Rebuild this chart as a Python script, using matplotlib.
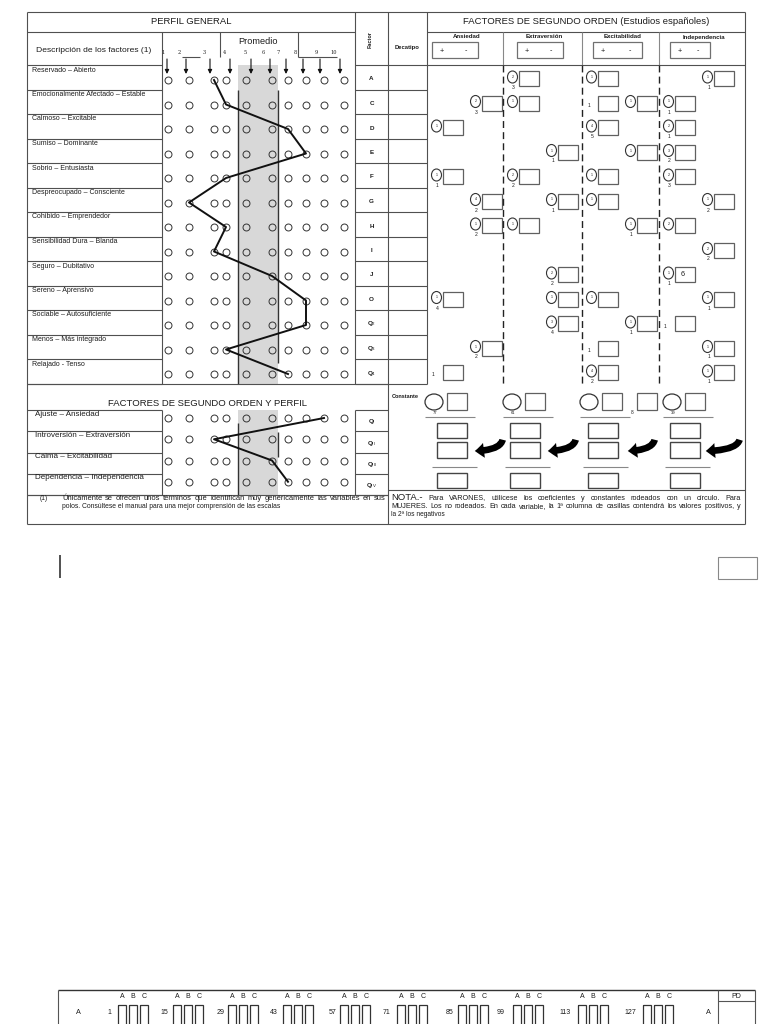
import matplotlib.pyplot as plt
from matplotlib.patches import Rectangle, Ellipse, FancyArrowPatch

plt.rcParams['font.family'] = ['Liberation Sans', 'DejaVu Sans']
plt.rcParams['mathtext.fontset'] = 'custom'
plt.rcParams['mathtext.rm'] = 'Liberation Sans'
plt.rcParams['mathtext.it'] = 'Liberation Sans'

# ---------------- data ----------------
factors = ['A', 'C', 'D', 'E', 'F', 'G', 'H', 'I', 'J', 'O',
           'Q$_2$', 'Q$_3$', 'Q$_4$']
descriptions = ['Reservado – Abierto', 'Emocionalmente Afectado – Estable',
                'Calmoso – Excitable', 'Sumiso – Dominante', 'Sobrio – Entusiasta',
                'Despreocupado – Consciente', 'Cohibido – Emprendedor',
                'Sensibilidad Dura – Blanda', 'Seguro – Dubitativo',
                'Sereno – Aprensivo', 'Sociable – Autosuficiente',
                'Menos – Más integrado', 'Relajado - Tenso']
decatipos = [3, 4, 7, 8, 4, 2, 4, 3, 6, 8, 8, 4, 7]

second_labels = ['Ajuste – Ansiedad', 'Introversión – Extraversión',
                 'Calma – Excitabilidad', 'Dependencia – Independencia']
second_codes = ['Q$_{I}$', 'Q$_{II}$', 'Q$_{III}$', 'Q$_{IV}$']
second_scores = [9, 3, 6, 7]

scale_numbers = ['1', '2', '3', '4', '5', '6', '7', '8', '9', '10']
groups = ['Ansiedad', 'Extraversión', 'Excitabilidad', 'Independencia']

# coefficients of the second-order factors (row, group, sign, circled, plain)
coef_row = [0, 0, 0, 1, 1, 1, 1, 1, 2, 2, 2, 3, 3, 3, 4, 4, 4, 4, 5, 5, 5, 5,
            6, 6, 6, 6, 7, 8, 8, 9, 9, 9, 9, 10, 10, 10, 11, 11, 11, 12, 12, 12]
coef_group = [1, 2, 3, 0, 1, 2, 2, 3, 0, 2, 3, 1, 2, 3, 0, 1, 2, 3, 0, 1, 2, 3,
              0, 1, 2, 3, 3, 1, 3, 0, 1, 2, 3, 1, 2, 3, 0, 2, 3, 0, 2, 3]
coef_sign = ['+', '+', '-', '-', '+', '+', '-', '+', '+', '+', '+', '-', '-', '+',
             '+', '+', '+', '+', '-', '-', '+', '-', '-', '+', '-', '+', '-',
             '-', '+', '+', '-', '+', '-', '-', '-', '+', '-', '+', '-', '+', '+', '-']
coef_male = [2, 1, 1, 2, 1, None, 1, 1, 1, 4, 2, 1, 1, 3, 1, 2, 1, 2, 4, 1, 1, 1,
             1, 1, 1, 2, 2, 2, 1, 1, 1, 1, 1, 3, 1, None, 1, None, 1, None, 4, 1]
coef_female = [3, None, 1, 3, None, 1, None, 1, None, 5, 1, 1, None, 2, 1, 2, None, 3,
               2, 1, None, 2, 2, None, 1, None, 2, 2, 1, 4, None, None, 1, 4, 1, 1,
               2, 1, 1, 1, 2, 1]
written_row = [8]
written_group = [3]
written_value = ['6']

const_values = ['77', '61', '8', '39']
const_beside = [False, False, True, False]

item_numbers = [1, 15, 29, 43, 57, 71, 85, 99, 113, 127]

# ---------------- layout ----------------
col_x = [168, 189, 214, 226, 246, 272, 288, 306, 324, 344]
num_x = [163, 179, 204, 224, 245, 263, 278, 295, 316, 334]
arrow_x = [167, 186, 210, 230, 251, 270, 286, 303, 320, 340]
L0, L_DESC, L_FACT, L_DEC, R_DEC, R1 = 27, 162, 355, 388, 427, 745
TOP, HEAD1, HEAD2, ROW_H = 12, 32, 65, 24.5
MAIN_BOT = HEAD2 + 13 * ROW_H
SO_TOP, SO_H = 410, 21.25
SO_BOT = SO_TOP + 4 * SO_H
BOT = 524
group_x = [427, 503, 582, 659]
LINE = '#505050'
INK = '#1c1c1c'

fig = plt.figure(figsize=(7.68, 10.24), dpi=100)
ax = fig.add_axes([0, 0, 1, 1])
ax.set_xlim(0, 768)
ax.set_ylim(1024, 0)
ax.axis('off')
renderer = fig.canvas.get_renderer()


def hline(y, x0, x1, lw=0.8, color=LINE, ls='-'):
    ax.plot([x0, x1], [y, y], color=color, lw=lw, ls=ls, solid_capstyle='butt')


def vline(x, y0, y1, lw=0.8, color=LINE, ls='-'):
    ax.plot([x, x], [y0, y1], color=color, lw=lw, ls=ls, solid_capstyle='butt')


def box(x, y, w, h, lw=0.9, color='#606060'):
    ax.add_patch(Rectangle((x, y), w, h, fill=False, ec=color, lw=lw))


def justified(words, x0, x1, y, **kw):
    # words: list of (text, size); spread them evenly between x0 and x1
    scale = 1.0
    for _ in range(4):
        objs = [ax.text(0, y, w, fontsize=s * scale, va='center', ha='left',
                        color=INK, **kw) for w, s in words]
        widths = [t.get_window_extent(renderer=renderer).width for t in objs]
        space = 0.28 * words[-1][1] * scale * 100 / 72
        natural = sum(widths) + space * (len(objs) - 1)
        if natural <= x1 - x0:
            break
        for t in objs:
            t.remove()
        scale *= (x1 - x0) / natural
    gap = (x1 - x0 - sum(widths)) / max(len(objs) - 1, 1)
    x = x0
    for t, w in zip(objs, widths):
        t.set_x(x)
        x += w + gap


# grey "Promedio" band
ax.add_patch(Rectangle((238, HEAD2), 40, MAIN_BOT - HEAD2, color='#d8d8d8', lw=0))
ax.add_patch(Rectangle((238, SO_TOP), 40, SO_BOT - SO_TOP, color='#d8d8d8', lw=0))
vline(238, 90, MAIN_BOT, lw=1.0, color='#333')
vline(278, 90, 363, lw=1.0, color='#333')
vline(238, 423, SO_BOT, lw=1.0, color='#333')
vline(278, 432, 457, lw=1.0, color='#333')

# ---------------- left panel frame ----------------
hline(TOP, L0, R1)
hline(HEAD1, L0, L_FACT)
hline(HEAD2, L0, L_DESC)
hline(HEAD2, L_FACT, R1)
vline(L0, TOP, BOT)
vline(L_DESC, HEAD1, MAIN_BOT)
vline(L_FACT, TOP, MAIN_BOT)
vline(L_DEC, TOP, BOT)
vline(R_DEC, TOP, MAIN_BOT)
vline(R1, TOP, BOT)
vline(220, HEAD1, 57)
vline(298, HEAD1, 57)
hline(57, 182, 200)
hline(57, 298, 337)
for k in range(1, 14):
    y = HEAD2 + k * ROW_H
    hline(y, L0, L_DESC)
    hline(y, L_FACT, R_DEC)
hline(MAIN_BOT, L0, L_DEC)
for k in range(5):
    y = SO_TOP + k * SO_H
    hline(y, L0, L_DESC)
    hline(y, L_FACT, L_DEC)
hline(SO_BOT, L0, L_DEC)
vline(L_DESC, SO_TOP, SO_BOT)
vline(L_FACT, SO_TOP, SO_BOT)
hline(BOT, L0, R1)

ax.text(191, 21, 'PERFIL GENERAL', fontsize=6.8, ha='center', va='center', color=INK)
ax.text(36, 51, 'Descripción de los factores (1)', fontsize=6.1, ha='left', va='center',
        color=INK)
ax.text(258, 42, 'Promedio', fontsize=6.6, ha='center', va='center', color=INK)
for x, n in zip(num_x, scale_numbers):
    ax.text(x, 52, n, fontsize=3.6, ha='center', va='center', color=INK, family='serif')
for x in arrow_x:
    ax.annotate('', xy=(x, 74), xytext=(x, 59),
                arrowprops=dict(arrowstyle='-|>', color='#111', lw=0.8,
                                mutation_scale=6, shrinkA=0, shrinkB=0))
ax.text(370, 40, 'Factor', fontsize=4, rotation=90, ha='center', va='center',
        fontweight='bold', color=INK)
ax.text(407, 47, 'Decatipo', fontsize=4.2, ha='center', va='center',
        fontweight='bold', color=INK)

# main profile rows
row_cy = []
for i, (lab, fac) in enumerate(zip(descriptions, factors)):
    top = HEAD2 + i * ROW_H
    cy = top + 15
    row_cy.append(cy)
    ax.text(32, top + 5, lab, fontsize=5.0, ha='left', va='center', color=INK)
    ax.text((L_FACT + L_DEC) / 2, top + 14, fac, fontsize=4.5, ha='center',
            va='center', fontweight='bold', color=INK)
    ax.plot(col_x, [cy] * len(col_x), 'o', mfc='none', mec='#333', ms=5, mew=0.7)
ax.plot([col_x[s - 1] for s in decatipos], row_cy, color='#111', lw=1.4, zorder=5)

# second-order profile
ax.text(207, 403, 'FACTORES DE SEGUNDO ORDEN Y PERFIL', fontsize=6.8,
        ha='center', va='center', color=INK)
so_cy = []
for i, (lab, code) in enumerate(zip(second_labels, second_codes)):
    top = SO_TOP + i * SO_H
    cy = top + 8
    so_cy.append(cy)
    ax.text(35, top + 4, lab, fontsize=5.8, ha='left', va='center', color=INK)
    ax.text((L_FACT + L_DEC) / 2, top + 12, code, fontsize=4.5, ha='center',
            va='center', fontweight='bold', color=INK)
    ax.plot(col_x, [cy] * len(col_x), 'o', mfc='none', mec='#333', ms=5, mew=0.7)
ax.plot([col_x[s - 1] for s in second_scores], so_cy, color='#111', lw=1.4, zorder=5)

ax.text(40, 499, '(1)', fontsize=4.8, ha='left', va='center', color=INK)
justified([(w, 5.4) for w in ('Únicamente se ofrecen unos términos que identifican muy '
                              'genéricamente las variables en sus').split(' ')],
          62, 386, 499)
ax.text(62, 507, 'polos. Consúltese el manual para una mejor comprensión de las escalas',
        fontsize=4.9, ha='left', va='center', color=INK)

# ---------------- right panel ----------------
hline(HEAD1, R_DEC, R1)
ax.text(586, 22, 'FACTORES DE SEGUNDO ORDEN (Estudios españoles)', fontsize=6.8,
        ha='center', va='center', color=INK)
pm_box_x = [432, 517, 593, 670]
pm_box_w = [46, 46, 49, 40]
for g, name in enumerate(groups):
    gx = group_x[g]
    gx1 = group_x[g + 1] if g < 3 else R1
    if g > 0:
        vline(gx, HEAD1, HEAD2, color='#888')
        vline(gx, HEAD2, MAIN_BOT, lw=1.0, color='#222', ls=(0, (5, 3)))
    ax.text((gx + gx1) / 2 + 2, 37, name, fontsize=4.4, ha='center', va='center',
            fontweight='bold', color=INK)
    box(pm_box_x[g], 42, pm_box_w[g], 16, color='#707070')
    ax.text(pm_box_x[g] + 10, 51, '+', fontsize=5.2, ha='center', va='center', color=INK)
    ax.text(pm_box_x[g] + pm_box_w[g] - 12, 51, '-', fontsize=5.2, ha='center',
            va='center', color=INK)


def coef_box_x(g, sign):
    return group_x[g] + (16 if sign == '+' else 55)


for r, g, s, m, f in zip(coef_row, coef_group, coef_sign, coef_male, coef_female):
    cy = HEAD2 + r * ROW_H + 13
    bx = coef_box_x(g, s)
    box(bx, cy - 7, 20, 15)
    ex = bx - 6.5
    if m is not None:
        ax.add_patch(Ellipse((ex, cy - 1), 10, 12, fill=False, ec='#333', lw=0.8))
        ax.text(ex, cy - 1, str(m), fontsize=2.6, ha='center', va='center', color=INK)
        if f is not None:
            ax.text(ex + 1, cy + 9.5, str(f), fontsize=3.6, ha='center', va='center',
                    color=INK)
    elif f is not None:
        ax.text(ex - 3, cy + 3, str(f), fontsize=3.6, ha='center', va='center', color=INK)

for r, g, v in zip(written_row, written_group, written_value):
    cy = HEAD2 + r * ROW_H + 13
    bx = coef_box_x(g, '+')
    ax.text(bx + 8, cy + 0.5, v, fontsize=5.2, ha='center', va='center', color=INK)

# constants and sums
ax.text(405, 396, 'Constante', fontsize=4, ha='center', va='center',
        fontweight='bold', color=INK)
const_cx = [434, 512, 589, 672]
stack_x = [437, 510, 588, 670]
arrow_span = [(472, 505), (545, 578), (625, 657), (703, 742)]
for g in range(4):
    cx = const_cx[g]
    ax.add_patch(Ellipse((cx, 402), 18, 16, fill=False, ec='#333', lw=0.9))
    box(cx + 13, 393, 20, 17)
    if const_beside[g]:
        ax.text(cx + 43, 413, const_values[g], fontsize=3.4, ha='center', va='center',
                color=INK)
        box(cx + 48, 393, 20, 17)
    else:
        ax.text(cx + 1, 413, const_values[g], fontsize=3, ha='center', va='center',
                color=INK)
    hline(417, cx - 9, cx + 41, color='#888')
    sx = stack_x[g]
    box(sx, 423, 30, 15, lw=1.0, color='#444')
    box(sx, 442, 30, 16, lw=1.0, color='#444')
    hline(467, sx - 5, sx + 40, color='#888')
    box(sx, 473, 30, 15, lw=1.0, color='#444')
    xa, xb = arrow_span[g]
    ax.add_patch(FancyArrowPatch((xb - 2, 437), (xa, 451),
                                 connectionstyle='angle3,angleA=90,angleB=0',
                                 arrowstyle='simple,head_length=0.55,head_width=0.9,'
                                            'tail_width=0.4',
                                 mutation_scale=12, color='#000', lw=0))

hline(490, L_DEC, R1)
justified([('NOTA.-', 6.8)] + [(w, 5.2) for w in (
    'Para VARONES, utilícese los coeficientes y constantes rodeados con un '
    'círculo. Para').split(' ')], 391, 741, 498)
justified([(w, 5.2) for w in (
    'MUJERES. Los no rodeados. En cada variable, la 1ª columna de casillas contendrá '
    'los valores positivos, y').split(' ')], 391, 741, 507)
ax.text(391, 515, 'la 2ª los negativos', fontsize=4.8, ha='left', va='center', color=INK)

# ---------------- below the form ----------------
vline(60, 555, 578, lw=1.1, color='#222')
box(718, 557, 39, 22, lw=0.8, color='#888')

# answer strip at the bottom
hline(990, 58, 755, lw=1.0, color='#333')
vline(58, 990, 1024, color='#555')
vline(718, 990, 1024, color='#555')
vline(755, 990, 1024, color='#555')
hline(1001, 718, 755, color='#555')
ax.text(736, 996, 'PD', fontsize=5, ha='center', va='center', color=INK)
ax.text(78, 1013, 'A', fontsize=5.2, ha='center', va='center', color=INK)
ax.text(708, 1013, 'A', fontsize=5.2, ha='center', va='center', color=INK)
group_start = [118, 173, 228, 283, 340, 397, 458, 513, 578, 643]
num_right = [111, 168, 225, 278, 336, 390, 454, 505, 571, 636]
for gx, nx, n in zip(group_start, num_right, item_numbers):
    ax.text(nx, 1013, str(n), fontsize=5, ha='right', va='center', color=INK)
    for j, letter in enumerate('ABC'):
        bx = gx + j * 11
        ax.text(bx + 4, 996, letter, fontsize=5, ha='center', va='center', color=INK)
        box(bx, 1005, 8, 22, lw=0.9, color='#333')

fig.savefig('out.png', dpi=100)
